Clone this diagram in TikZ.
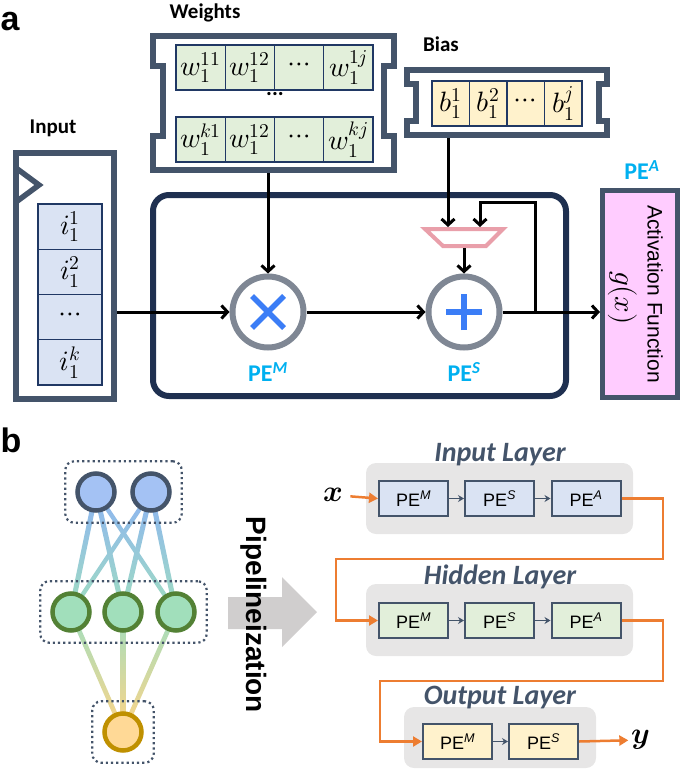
\documentclass[tikz,border=0pt]{standalone}
\usepackage{fontspec}
\usepackage{unicode-math}
\setmainfont{Carlito}
\setmathfont{Latin Modern Math}
\newfontfamily\arialfont{Liberation Sans}
\usetikzlibrary{arrows.meta,backgrounds,fit}

\definecolor{slate}{HTML}{44546A}
\definecolor{navy}{HTML}{1F3050}
\definecolor{cellline}{HTML}{203864}
\definecolor{wfill}{HTML}{E2EFDA}
\definecolor{bfill}{HTML}{FFF2CC}
\definecolor{ifill}{HTML}{DAE3F3}
\definecolor{ringgray}{HTML}{7F8794}
\definecolor{symblue}{HTML}{3B7DF6}
\definecolor{pecyan}{HTML}{00B0F0}
\definecolor{muxpink}{HTML}{E99FAA}
\definecolor{actfill}{HTML}{FFCCFF}
\definecolor{nblue}{HTML}{A4C2F4}
\definecolor{ngreen}{HTML}{A1DFBB}
\definecolor{ngreenline}{HTML}{538135}
\definecolor{norange}{HTML}{FFD996}
\definecolor{norangeline}{HTML}{BF9000}
\definecolor{bggray}{HTML}{E7E6E6}
\definecolor{orangeline}{HTML}{ED7D31}
\definecolor{pipegray}{HTML}{D0CECE}
\definecolor{lkblue}{HTML}{8DB4F2}
\definecolor{lkgreen}{HTML}{A0DEC0}
\definecolor{lkorange}{HTML}{FFD485}

\newcommand*{\nnlink}[4]{\shade[top color=#3,bottom color=#4] ([xshift=-2.6pt]#1.center) -- ([xshift=2.6pt]#1.center) -- ([xshift=2.6pt]#2.center) -- ([xshift=-2.6pt]#2.center) -- cycle;}

\begin{document}
\begin{tikzpicture}
[
	x=1pt,y=-1pt,
	frame/.style={draw=slate,line width=5.5pt},
	wcell/.style={draw=cellline,line width=1.3pt,fill=wfill,minimum width=49.25pt,minimum height=45pt,inner sep=0pt,font=\fontsize{28}{28}\selectfont},
	bcell/.style={wcell,fill=bfill,minimum width=37.5pt},
	icell/.style={wcell,fill=ifill,minimum width=64pt,minimum height=45.25pt},
	heading/.style={font=\fontsize{21}{21}\selectfont\bfseries},
	panel/.style={font=\arialfont\bfseries\fontsize{34}{34}\selectfont},
	pering/.style={circle,draw=ringgray,line width=6pt,fill=white,minimum size=71pt,inner sep=0pt},
	symb/.style={draw=symblue,line width=5.5pt},
	pelabel/.style={text=pecyan,font=\fontsize{24}{24}\selectfont\bfseries},
	wire/.style={line width=3pt,-{Straight Barb[length=6pt,width=13pt]}},
	neuron/.style={circle,line width=4.5pt,minimum size=37pt,inner sep=0pt},
	group/.style={draw=slate,line width=2.2pt,dash pattern=on 2.2pt off 3pt,rounded corners=9pt,inner sep=10pt},
	layerbg/.style={fill=bggray,rounded corners=10pt},
	layername/.style={text=slate,font=\fontsize{28}{28}\selectfont\bfseries\itshape},
	pebox/.style={draw=slate,line width=2pt,minimum width=69pt,minimum height=35pt,inner sep=0pt,font=\arialfont\fontsize{18}{18}\selectfont},
	link/.style={draw=slate,line width=1.5pt,-{Stealth[length=6pt,width=7pt]}},
	flow/.style={draw=orangeline,line width=2.5pt,-{Triangle[length=9pt,width=10pt]}}
]
	\useasboundingbox (0,0) rectangle (685,778);

	% panel a
	\node[panel] (laba) at (10,22) {a};
	\node[heading] (wtitle) at (205,13) {Weights};
	\node[heading] (btitle) at (441,44) {Bias};
	\node[heading] (ititle) at (53,128) {Input};

	% weights memory
	\draw[frame] (153,36) -- (394,36) -- (394,66) -- (384,66) -- (384,136) -- (394,136) -- (394,170)
		-- (153,170) -- (153,136) -- (163,136) -- (163,66) -- (153,66) -- cycle;
	\node[wcell] (w11) at (200.6,67.5) {$w_1^{11}$};
	\node[wcell] (w12) at (249.9,67.5) {$w_1^{12}$};
	\node[wcell] (w1d) at (299.1,67.5) {$\cdots$};
	\node[wcell] (w1j) at (348.4,67.5) {$w_1^{1j}$};
	\node[font=\fontsize{22}{22}\selectfont\bfseries] (wdots) at (275,94) {...};
	\node[wcell] (wk1) at (200.6,139.5) {$w_1^{k1}$};
	\node[wcell] (wk2) at (249.9,139.5) {$w_1^{12}$};
	\node[wcell] (wkd) at (299.1,139.5) {$\cdots$};
	\node[wcell] (wkj) at (348.4,139.5) {$w_1^{kj}$};
	\coordinate (wbot) at (268,173);

	% bias memory
	\draw[frame] (407,70) -- (607,70) -- (607,84) -- (599,84) -- (599,121) -- (607,121) -- (607,135)
		-- (407,135) -- (407,121) -- (416,121) -- (416,84) -- (407,84) -- cycle;
	\node[bcell] (b1) at (450.75,103.5) {$b_1^1$};
	\node[bcell] (b2) at (488.25,103.5) {$b_1^2$};
	\node[bcell] (bd) at (525.75,103.5) {$\cdots$};
	\node[bcell] (bj) at (563.25,103.5) {$b_1^j$};
	\coordinate (bbot) at (448,138);

	% input memory
	\draw[frame] (16,153) rectangle (114,399);
	\draw[frame,line join=miter] (16,168) -- (39,185) -- (16,202);
	\node[icell] (i1) at (70,226.6) {$i_1^1$};
	\node[icell] (i2) at (70,271.9) {$i_1^2$};
	\node[icell] (id) at (70,317.1) {$\cdots$};
	\node[icell] (ik) at (70,362.4) {$i_1^k$};
	\coordinate (iout) at (117,312);

	% processing element
	\draw[draw=navy,line width=6pt,rounded corners=16pt] (153,195) rectangle (566,396);
	\node[pering] (mul) at (268,312) {};
	\draw[symb] ([shift={(-16,-16)}]mul.center) -- ([shift={(16,16)}]mul.center);
	\draw[symb] ([shift={(-16,16)}]mul.center) -- ([shift={(16,-16)}]mul.center);
	\node[pering] (add) at (464,312) {};
	\draw[symb] ([yshift=-18pt]add.center) -- ([yshift=18pt]add.center);
	\draw[symb] ([xshift=-18pt]add.center) -- ([xshift=18pt]add.center);
	\node[pelabel] (mlab) at (268,372) {PE\textsuperscript{\itshape M}};
	\node[pelabel] (slab) at (464,372) {PE\textsuperscript{\itshape S}};

	\draw[draw=muxpink,line width=4pt,line join=miter] (425,229) -- (503,229) -- (486,246) -- (443,246) -- cycle;
	\coordinate (muxl) at (448,227);
	\coordinate (muxr) at (480,227);
	\coordinate (muxo) at (464,248);
	\coordinate (tap) at (535,312);

	% activation
	\node[draw=slate,line width=5pt,fill=actfill,minimum width=75pt,minimum height=207pt,inner sep=0pt] (act) at (640,294) {};
	\node[rotate=-90,font=\arialfont\fontsize{21}{21}\selectfont] (actname) at (655,294) {Activation Function};
	\node[rotate=-90,font=\fontsize{29}{29}\selectfont] (gx) at (623,298) {$g(x)$};
	\node[pelabel] (alab) at (642,170) {PE\textsuperscript{\itshape A}};

	% wires
	\draw[wire] (iout) -- (mul.west);
	\draw[wire] (wbot) -- (mul.north);
	\draw[wire] (mul.east) -- (add.west);
	\draw[wire] (bbot) -- (muxl);
	\draw[wire] (muxo) -- (add.north);
	\draw[wire] (tap) -- (535,202) -| (muxr);
	\draw[wire] (add.east) -- (add.east -| act.west);

	% panel b
	\node[panel] (labb) at (11,440) {b};

	\node[neuron,draw=slate,fill=nblue] (t1) at (96,492) {};
	\node[neuron,draw=slate,fill=nblue] (t2) at (151,492) {};
	\node[neuron,draw=ngreenline,fill=ngreen] (h1) at (71,612) {};
	\node[neuron,draw=ngreenline,fill=ngreen] (h2) at (123,612) {};
	\node[neuron,draw=ngreenline,fill=ngreen] (h3) at (176,612) {};
	\node[neuron,draw=norangeline,fill=norange] (o1) at (123,732) {};
	\node[group,fit=(t1)(t2)] (gtop) {};
	\node[group,fit=(h1)(h3)] (gmid) {};
	\node[group,fit=(o1)] (gbot) {};

	\begin{scope}[on background layer]
	\nnlink{t1}{h1}{lkblue}{lkgreen}
	\nnlink{t1}{h2}{lkblue}{lkgreen}
	\nnlink{t1}{h3}{lkblue}{lkgreen}
	\nnlink{t2}{h1}{lkblue}{lkgreen}
	\nnlink{t2}{h2}{lkblue}{lkgreen}
	\nnlink{t2}{h3}{lkblue}{lkgreen}
	\nnlink{h1}{o1}{lkgreen}{lkorange}
	\nnlink{h2}{o1}{lkgreen}{lkorange}
	\nnlink{h3}{o1}{lkgreen}{lkorange}
	\end{scope}

	\fill[pipegray] (228,597) -- (282,597) -- (282,577) -- (317,612) -- (282,647) -- (282,629) -- (228,629) -- cycle;
	\node[rotate=-90,font=\arialfont\bfseries\fontsize{28}{28}\selectfont] (pipe) at (254,615) {Pipelineization};

	% input layer
	\fill[layerbg] (366,463) rectangle (633,534);
	\node[layername] (inname) at (500,455) {Input Layer};
	\node[pebox,fill=ifill] (im) at (413.5,498.5) {PE\textsuperscript{\itshape M}};
	\node[pebox,fill=ifill] (is) at (499.5,498.5) {PE\textsuperscript{\itshape S}};
	\node[pebox,fill=ifill] (ia) at (586,498.5) {PE\textsuperscript{\itshape A}};
	\draw[link] (im) -- (is);
	\draw[link] (is) -- (ia);

	% hidden layer
	\fill[layerbg] (366,584) rectangle (633,656);
	\node[layername] (hname) at (500,577) {Hidden Layer};
	\node[pebox,fill=wfill] (hm) at (413.5,620.5) {PE\textsuperscript{\itshape M}};
	\node[pebox,fill=wfill] (hs) at (499.5,620.5) {PE\textsuperscript{\itshape S}};
	\node[pebox,fill=wfill] (ha) at (586,620.5) {PE\textsuperscript{\itshape A}};
	\draw[link] (hm) -- (hs);
	\draw[link] (hs) -- (ha);

	% output layer
	\fill[layerbg] (404,707) rectangle (596,768);
	\node[layername] (oname) at (500,698) {Output Layer};
	\node[pebox,fill=bfill] (om) at (457.5,741.5) {PE\textsuperscript{\itshape M}};
	\node[pebox,fill=bfill] (os) at (543.5,741.5) {PE\textsuperscript{\itshape S}};
	\draw[link] (om) -- (os);

	% data flow
	\node[font=\fontsize{30}{30}\selectfont] (xin) at (333,495) {$\symbfit{x}$};
	\node[font=\fontsize{30}{30}\selectfont] (yout) at (641,740) {$\symbfit{y}$};
	\draw[flow,shorten <=4pt] (xin) -- (im.west);
	\draw[flow] (ia.east) -| (663,559) -| (336,620.5) -- (hm.west);
	\draw[flow] (ha.east) -| (663,681) -| (380,741.5) -- (om.west);
	\draw[flow] (os.east) -- (yout);

\end{tikzpicture}
\end{document}
